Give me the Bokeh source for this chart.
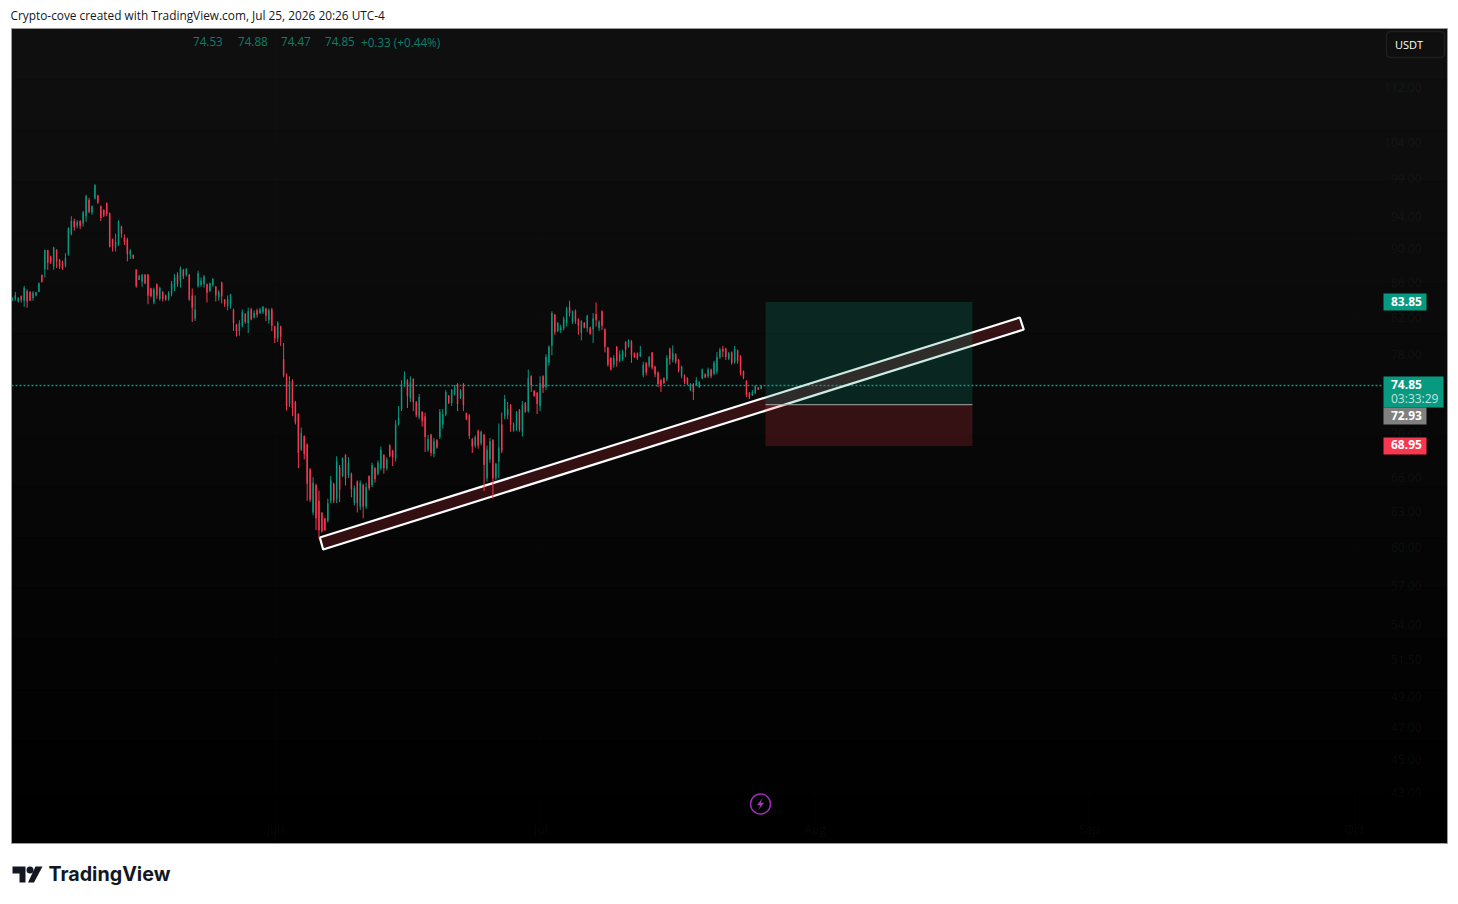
import math
from datetime import datetime, timezone
from bokeh.plotting import figure
from bokeh.layouts import column
from bokeh.models import Range1d, Label, BoxAnnotation
from bokeh.core.properties import value
from bokeh.embed import file_html
from bokeh.resources import INLINE

# ---------- values (open, high, low, close) ----------
ohlc_may_a = [
 (84.0,84.4,84.0,84.3),(84.2,85.0,84.0,84.6),(83.9,84.4,83.8,84.3),
 (84.5,84.6,83.8,84.1),(84.0,85.7,83.3,85.5),(85.1,85.3,83.2,83.9),(85.0,85.1,84.0,84.0),(84.3,85.1,84.0,84.9),
 (84.6,85.0,84.5,85.0),(85.0,86.1,85.0,86.0),(87.0,87.0,86.1,86.2),(87.7,90.0,86.7,90.0),(90.0,90.0,87.6,88.4),
 (89.2,89.3,88.3,88.5),(88.0,90.4,87.6,90.3),(90.0,90.1,87.8,88.6),(88.8,88.9,87.7,88.0),(88.5,88.7,87.6,87.8),
 (88.1,89.6,87.9,89.0),(89.5,92.8,89.3,92.7),(92.0,94.2,91.8,93.6),(93.6,93.9,92.4,92.8),(93.0,93.7,92.7,93.5),
 (93.6,93.7,92.6,93.0),(93.3,94.9,92.9,94.7),(94.2,97.0,93.5,96.8),(96.3,96.6,94.6,94.8),(94.7,95.6,94.4,95.5),
 (96.5,98.4,96.4,98.3),(96.9,97.0,95.8,96.0),(95.5,95.6,93.6,94.0),(95.0,95.1,94.1,94.3),(95.9,96.0,94.2,94.5),
 (94.6,94.7,90.3,90.4),(91.3,91.4,89.8,90.5),(90.3,92.0,89.8,91.0),(90.8,93.7,90.5,93.5),(92.9,93.0,91.5,92.0),(91.5,91.9,90.6,91.0),
 (91.3,91.5,88.6,89.5),(89.4,90.1,88.9,89.9),(89.4,89.4,88.9,89.0),(87.6,87.7,85.5,85.7),(86.4,87.0,86.4,86.9),
 (86.2,87.1,85.6,87.0),(87.0,87.1,85.9,86.0),(87.0,87.1,83.6,84.6),(85.4,85.5,84.4,84.5),(83.8,85.5,83.6,85.3),
 (85.9,86.0,84.2,84.6),(84.2,85.6,84.0,85.5),(85.0,85.1,83.9,84.2),(84.6,84.7,84.0,84.1),(84.2,85.1,84.0,84.9),
 (84.8,86.3,84.5,86.0),(85.5,87.1,85.1,86.6),(87.0,87.3,85.6,85.9),(86.3,88.0,85.5,87.8),(87.6,87.7,86.5,86.8),
 (87.0,87.8,86.8,87.7),(87.0,87.1,84.0,84.1),(84.6,85.4,81.6,83.2),(82.0,84.6,81.7,83.0),
]
ohlc_may_b = [
 (85.7,87.5,85.5,87.2),(85.8,86.7,85.6,86.3),(85.9,87.0,85.5,86.8),(85.9,86.0,83.8,84.9),(85.1,86.1,85.0,86.0),
 (85.8,86.6,85.6,86.5),(85.6,85.7,83.9,84.6),(84.4,85.2,84.0,85.0),(86.1,86.2,83.7,84.5),(84.1,84.2,83.3,83.6),
 (83.4,84.6,82.9,84.2),(83.6,84.8,83.1,84.7),(83.0,83.1,80.6,81.5),(81.3,81.4,80.0,80.6),(80.6,81.8,80.1,81.5),
 (81.2,83.0,81.0,82.7),(82.5,82.6,81.4,81.6),(81.5,83.2,80.4,82.8),(83.0,83.2,81.8,81.9),(82.1,82.9,82.0,82.6),
 (82.9,83.1,82.1,82.4),(82.6,83.2,82.5,83.0),(82.7,83.4,82.5,83.3),(83.1,83.2,81.7,82.3),(81.8,83.1,81.4,82.9),
 (83.0,83.2,80.6,81.2),(81.1,81.2,79.3,79.8),(79.8,81.7,79.4,81.5),(81.1,81.2,79.0,80.0),
]
ohlc_jun_a = [
 (77.6,79.3,75.7,75.9),(75.9,76.1,72.35,72.8),(73.0,75.8,72.7,75.3),(75.3,75.5,71.8,72.6),(73.2,73.3,71.0,71.2),
 (72.0,72.1,66.9,68.3),(68.6,70.7,68.5,70.2),(69.9,69.95,67.7,68.2),(69.1,69.2,64.0,65.5),(66.8,66.9,63.9,64.1),
 (63.0,66.1,62.75,65.6),(65.4,65.5,61.5,62.5),(64.0,64.9,60.8,61.5),(63.0,63.0,61.3,61.4),(62.5,62.5,61.45,61.5),(62.3,64.2,62.15,63.8),
 (64.0,66.2,63.8,65.8),(65.5,65.6,63.8,64.0),(64.2,68.0,63.8,67.5),(67.0,67.2,63.9,65.0),(66.2,67.9,66.1,67.8),
 (68.1,68.2,65.35,66.0),(66.3,67.9,66.0,67.4),(66.4,66.5,64.3,65.0),(63.8,65.35,63.6,65.1),(65.7,65.8,63.0,63.8),
 (63.5,65.8,63.2,65.6),(65.4,65.5,62.5,63.5),(63.5,65.6,63.3,65.2),(66.2,66.25,64.9,65.1),(65.4,67.4,65.2,67.2),
 (66.9,67.0,65.6,65.9),(66.4,67.6,66.25,67.4),(66.9,68.9,66.7,68.6),(68.1,68.2,66.4,66.9),(66.9,67.9,66.7,67.7),
]
ohlc_jun_b = [
 (69.0,69.1,67.9,68.0),(68.5,68.6,67.1,67.9),(67.8,71.4,67.5,71.0),(71.0,72.8,70.9,71.6),(72.5,75.4,72.3,75.0),
 (75.0,76.3,74.7,75.8),(75.4,75.5,72.6,73.8),(73.6,75.8,73.2,75.2),(75.5,75.6,72.3,73.2),
 (73.2,73.3,71.7,71.9),(71.7,74.0,71.5,73.7),(72.2,72.3,70.8,71.3),(71.8,72.15,68.4,69.8),
 (68.6,70.0,68.4,69.6),(70.0,70.1,68.0,68.3),(68.2,69.7,67.9,69.4),(69.5,69.6,68.7,68.8),(69.8,72.5,69.6,72.2),
 (71.0,72.5,70.6,72.0),(72.0,74.4,71.8,74.2),(73.8,73.9,73.0,73.1),(73.1,74.5,72.8,74.4),
 (74.0,74.9,73.85,74.6),(75.0,75.1,72.3,73.0),(73.6,74.5,73.5,74.4),(75.0,75.1,72.3,72.9),(72.1,72.15,71.4,71.5),
 (71.9,72.0,69.6,69.9),(69.6,69.7,68.3,68.9),(69.0,69.95,68.8,69.8),(70.4,70.5,68.7,69.0),(69.2,70.4,69.0,70.3),
 (70.0,70.1,64.85,67.2),(66.0,69.0,65.7,68.6),(67.7,69.7,67.4,69.4),(69.5,69.6,64.2,66.0),(66.0,67.4,65.8,67.3),
 (67.5,71.1,66.0,68.8),(71.0,72.15,68.3,68.5),(71.8,73.9,71.5,73.5),(71.9,73.2,71.5,72.5),
]
ohlc_jul_a = [
 (72.9,73.0,70.3,71.0),(70.4,71.2,70.3,71.0),(70.8,72.3,70.4,72.2),(72.4,72.5,70.3,70.5),(70.3,73.3,69.85,72.9),
 (73.1,73.2,72.15,72.2),(72.3,76.5,72.15,75.6),(75.8,75.9,74.2,74.9),(74.3,74.4,73.7,73.8),(74.1,74.2,72.0,73.0),
 (72.8,75.8,72.3,75.1),(75.8,75.9,74.1,74.6),(74.7,78.1,74.4,77.8),(77.2,79.05,76.9,78.9),(79.0,82.8,78.0,82.6),
 (82.4,82.5,80.2,80.5),(80.6,81.6,80.5,81.5),(80.7,81.3,80.4,81.0),(80.9,82.2,80.7,81.9),(81.5,83.3,81.1,83.1),(83.3,84.0,82.2,82.6),
 (81.6,82.9,81.4,82.8),(82.8,83.0,81.4,81.7),(81.9,82.0,80.2,81.2),(80.4,81.8,79.6,81.7),
]
ohlc_jul_b = [
 (81.5,81.6,80.9,81.0),(80.9,82.4,80.5,82.3),(81.0,81.1,80.2,80.3),(80.8,82.6,79.3,82.0),(82.5,83.8,81.1,81.8),
 (80.9,81.8,80.6,81.6),(82.8,82.9,80.7,81.2),(80.8,80.9,78.3,78.9),(78.8,78.9,76.8,77.0),(77.7,77.8,76.4,76.5),
 (77.0,78.0,76.7,77.7),(78.9,79.0,76.8,77.4),(77.4,78.5,77.25,78.1),(77.6,78.6,77.4,78.4),(79.4,79.5,77.8,78.6),
 (78.9,79.7,78.8,79.6),(79.5,79.6,77.2,78.0),(78.2,78.3,77.7,77.8),(78.2,78.3,77.5,77.7),(77.9,79.0,77.8,78.3),
 (75.9,77.3,75.7,77.0),(77.2,77.25,75.9,76.2),(76.9,77.9,76.7,77.8),(78.3,78.35,76.5,76.7),
 (76.8,76.9,75.7,76.0),(76.2,76.3,74.7,75.0),(75.4,75.5,74.2,74.9),(75.6,75.7,75.0,75.1),(75.5,78.0,75.3,77.7),
 (78.7,78.8,77.0,77.6),(77.5,79.05,77.25,78.2),(78.1,78.2,77.1,77.3),(77.5,77.6,76.2,76.4),(75.8,76.9,75.6,76.8),
 (75.9,76.0,75.0,75.2),(75.6,75.7,74.9,75.0),(74.4,75.1,74.3,75.0),(75.0,75.1,73.4,74.2),(74.9,75.7,74.8,75.4),
 (74.7,75.3,74.6,75.2),(75.6,76.6,75.5,76.5),(76.0,76.1,75.6,75.7),(75.8,76.7,75.6,76.5),
 (76.5,76.6,75.6,75.8),(76.1,77.4,75.9,77.2),(76.3,78.35,76.0,77.8),(77.8,78.8,77.6,78.6),(78.7,79.0,77.8,78.4),
 (78.7,78.8,77.5,77.8),(77.6,78.35,77.5,78.2),(78.3,78.4,77.0,77.2),(77.3,79.0,77.1,78.7),
 (78.5,78.6,77.1,77.4),(77.9,78.0,75.9,76.1),(76.3,76.4,75.5,75.7),(75.3,75.4,73.7,73.9),
 (74.1,74.2,73.5,73.7),(73.9,74.4,73.8,74.2),(74.1,74.9,74.0,74.8),(74.65,74.7,74.4,74.45),(74.53,74.88,74.47,74.85),
]
legend_ohlc = ["74.53", "74.88", "74.47", "74.85", "+0.33 (+0.44%)"]
price_ticks = [112, 104, 99, 94, 90, 86, 82, 78, 70, 66, 63, 60, 57, 54, 51.5, 49, 47, 45, 43]
month_ticks = ["2026-06-01", "2026-07-01", "2026-08-01", "2026-09-01", "2026-10-01"]
month_labels = ["Jun", "Jul", "Aug", "Sep", "Oct"]
position_target, position_entry, position_stop = 83.85, 72.93, 68.95
last_price = 74.85
countdown = "03:33:29"
# channel corners: (days after 1 Jun, price)
channel_days = [5.01, 84.16, 84.61, 5.39]
channel_prices = [60.89, 82.1, 80.77, 59.9]
position_days = (55.4, 78.8)

# ---------- geometry of the scales ----------
W = 1458
F_L, F_R, F_T, F_B = 11, 1447, 28, 843
DAY = 86400000.0
def ms(s):
    return datetime.fromisoformat(s).replace(tzinfo=timezone.utc).timestamp() * 1000
JUN1 = ms("2026-06-01")
PX_DAY = 8.844
def X(px):
    return JUN1 + (px - 275) / PX_DAY * DAY
def Y(py):
    return 83.85 * math.exp((301.5 - py) / 736.0)

ohlc = ohlc_may_a + ohlc_may_b + ohlc_jun_a + ohlc_jun_b + ohlc_jul_a + ohlc_jul_b
opens, highs, lows, closes = [list(c) for c in zip(*ohlc)]
n = len(ohlc)
last_bar = ms("2026-07-25 22:00:00")
BAR = DAY / 3
dates = [last_bar - (n - 1 - i) * BAR for i in range(n)]

p = figure(width=W, height=817, x_axis_type="datetime", y_axis_type="log",
           x_range=Range1d(X(F_L), X(F_R)), y_range=Range1d(Y(F_B), Y(F_T)),
           output_backend="svg", toolbar_location=None,
           min_border_left=11, min_border_right=11, min_border_top=1, min_border_bottom=1)
p.axis.visible = False
p.grid.visible = False
p.border_fill_color = "#ffffff"
p.background_fill_color = "#000000"
p.outline_line_color = "#9a9a9a"
p.outline_line_width = 1

# background gradient
bands = 16
for i in range(bands):
    top_px = F_T + 1 + (F_B - F_T - 2) * i / bands
    bot_px = F_T + 1 + (F_B - F_T - 2) * (i + 1) / bands
    g = 15 - i
    col = f"#{g:02x}{g:02x}{g:02x}"
    p.quad(left=[X(F_L + 1)], right=[X(F_R - 1)], top=[Y(top_px)], bottom=[Y(bot_px)],
           fill_color=col, line_color=col, line_width=1)

# faint grid
GRID = "#ffffff"
p.segment([X(F_L)] * len(price_ticks), price_ticks, [X(1383)] * len(price_ticks), price_ticks,
          line_color=GRID, line_alpha=0.012, line_width=1)
mt = [ms(m) for m in month_ticks]
p.segment(mt, [Y(F_B)] * len(mt), mt, [Y(F_T)] * len(mt), line_color=GRID, line_alpha=0.012, line_width=1)

# faint axis labels
p.text([X(1421)] * len(price_ticks), price_ticks, text=[f"{t:.2f}" for t in price_ticks], y_offset=-1,
       text_font=value("Open Sans"), text_font_size="12px", text_color="#ffffff", text_alpha=0.05,
       text_align="right", text_baseline="middle")
p.text(mt, [Y(830)] * len(mt), text=month_labels, y_offset=-1, text_font=value("Open Sans"), text_font_size="12px",
       text_color="#ffffff", text_alpha=0.05, text_align="center", text_baseline="middle")

# last price dotted line
p.segment([X(F_L)], [last_price], [X(1383)], [last_price], line_color="#089981", line_width=1.6, line_dash="2 2")

# channel
cd = [JUN1 + d * DAY for d in channel_days]
p.patch(cd, channel_prices, fill_color="#F23645", fill_alpha=0.2, line_color=None)

# channel outline
p.patch(cd + cd[:1], channel_prices + channel_prices[:1], fill_color=None, line_color="#ffffff", line_width=2.2)

# candles
RED, GREEN = "#F7374F", "#089981"
colors = [GREEN if c >= o else RED for o, c in zip(opens, closes)]
p.segment(dates, highs, dates, lows, line_color=colors, line_width=1)
p.vbar(x=dates, top=[max(o, c) for o, c in zip(opens, closes)], bottom=[min(o, c) for o, c in zip(opens, closes)],
       width=BAR * 0.5, fill_color=colors, line_color=None)

# position tool
pl, pr = JUN1 + position_days[0] * DAY, JUN1 + position_days[1] * DAY
p.quad(left=[pl], right=[pr], top=[position_target], bottom=[position_entry], fill_color="#089981", fill_alpha=0.2,
       line_color=None)
p.quad(left=[pl], right=[pr], top=[position_entry], bottom=[position_stop], fill_color="#F23645", fill_alpha=0.2,
       line_color=None)
p.segment([pl], [position_entry], [pr], [position_entry], line_color="#a8a8a8", line_width=1)

# price tags
def tag(price, color, txt, w=43, h=17):
    p.rect([X(1404.5)], [price], width=[w], height=[h], width_units="screen", height_units="screen",
           fill_color=color, line_color=None)
    p.text([X(1390.5)], [price], text=[txt], y_offset=-1, text_font=value("Open Sans"), text_font_size="12px",
           text_font_style="bold", text_color="#ffffff", text_align="left", text_baseline="middle")
tag(position_target, "#089981", f"{position_target:.2f}")
tag(position_stop, "#F7374F", f"{position_stop:.2f}")
tag(Y(415.5), "#808080", f"{position_entry:.2f}")
p.quad(left=[X(1383)], right=[X(1443)], top=[Y(376)], bottom=[Y(407)], fill_color="#089981", line_color=None)
p.text([X(1390.5)], [last_price], text=[f"{last_price:.2f}"], y_offset=-1, text_font=value("Open Sans"), text_font_size="12px",
       text_font_style="bold", text_color="#ffffff", text_align="left", text_baseline="middle")
p.text([X(1390.5)], [Y(398.5)], text=[countdown], y_offset=-1, text_font=value("Open Sans"), text_font_size="12px",
       text_color="#ffffff", text_alpha=0.75, text_align="left", text_baseline="middle")

# legend row
LEG = "#0b7f6c"
for txt, px in zip(legend_ohlc, [192.5, 237.5, 280.5, 324.5, 360.5]):
    p.text([X(px)], [Y(42)], text=[txt], y_offset=-1, text_font=value("Open Sans"), text_font_size="11.7px", text_color=LEG,
           text_align="left", text_baseline="middle")

# currency button
TOP = 27
p.add_layout(BoxAnnotation(left=1386, right=1444, top=31 - TOP, bottom=57 - TOP,
                           left_units="canvas", right_units="canvas", top_units="canvas", bottom_units="canvas",
                           fill_color="#0f0f0f", fill_alpha=1, line_color="#484848", line_width=1.5, border_radius=4))
p.add_layout(Label(x=1394.5, y=44 - TOP, x_units="canvas", y_units="canvas", text="USDT", text_font="Open Sans",
                   text_font_size="11px", text_color="#ffffff", text_baseline="middle"))

# bolt icon
p.scatter([X(760)], [Y(803.5)], marker="circle", size=20, fill_color="#000000", line_color="#9c2db5", line_width=1.5)
bx = [762, 756.5, 759.8, 758, 763.5, 760.3]
by = [797.5, 804.8, 804.8, 809.5, 802.2, 802.2]
p.patch([X(v) for v in bx], [Y(v) for v in by], fill_color="#a23ab8", line_color=None)

# header strip
def strip(h, y0, y1):
    f = figure(width=W, height=h, x_range=Range1d(0, W), y_range=Range1d(y1, y0), output_backend="svg",
               toolbar_location=None, min_border_left=0, min_border_right=0, min_border_top=0, min_border_bottom=0)
    f.axis.visible = False
    f.grid.visible = False
    f.outline_line_color = None
    f.border_fill_color = "#ffffff"
    f.background_fill_color = "#ffffff"
    return f
head = strip(27, 0, 27)
head.text([10], [14], text=["Crypto-cove created with TradingView.com, Jul 25, 2026 20:26 UTC-4"],
          text_font=value("Open Sans"), text_font_size="11.85px", text_color="#131722", text_baseline="middle")

# footer strip with the brand mark
foot = strip(60, 844, 904)
LOGO = "#131722"
foot.text([48], [873], text=["TradingView"], text_font=value("Inter"), text_font_size="19.7px", text_font_style="bold",
          text_color=LOGO, text_baseline="middle")
foot.patch([12, 25, 25, 19, 19, 12], [866, 866, 882, 882, 873, 873], fill_color=LOGO, line_color=None)
foot.patch([35, 42, 33.5, 27.5], [866, 866, 882, 882], fill_color=LOGO, line_color=None)
foot.scatter([29.5], [869.5], marker="circle", size=7, fill_color=LOGO, line_color=None)

page = column(column(head), column(p), column(foot), spacing=0)
open("out.html", "w").write(file_html(page, INLINE))
